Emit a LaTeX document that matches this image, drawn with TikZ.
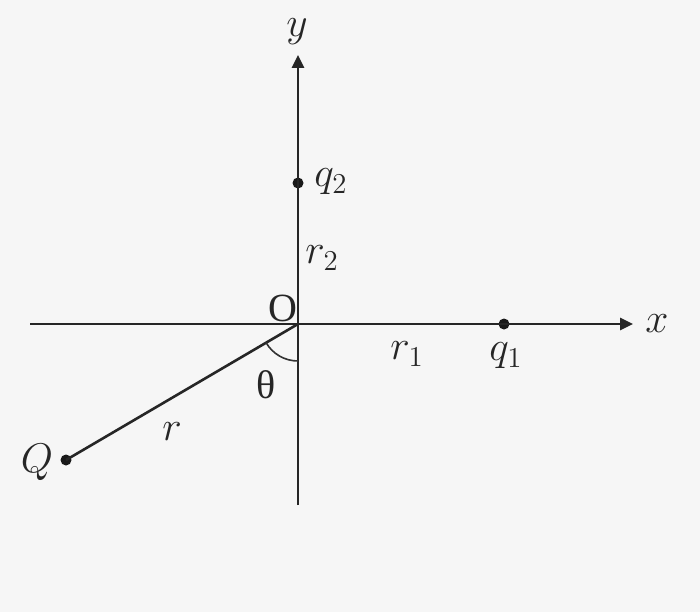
\documentclass[tikz,border=0pt]{standalone}
\usepackage{fontspec}
\newfontfamily\tmsfont{Liberation Serif}
\usetikzlibrary{arrows.meta}
\begin{document}
\begin{tikzpicture}[x=0.5pt,y=0.5pt,
  axis/.style={draw=black!85, line width=1.3pt},
  tip/.style={-{Triangle[length=6.5pt,width=6pt]}},
  charge/.style={circle, fill=black!90, inner sep=0pt, minimum size=5.5pt},
  lab/.style={font=\fontsize{20}{24}\selectfont, text=black!85, inner sep=1pt}]
\useasboundingbox[fill=gray!7] (0,0) rectangle (700,612);
\coordinate (O) at (298,288);
\coordinate (xl) at (30,288);
\coordinate (xr) at (633,288);
\coordinate (yb) at (298,107);
\coordinate (yt) at (298,557);
\node[charge] (q1) at (504,288) {};
\node[charge] (q2) at (298,429) {};
\node[charge] (Q) at (66,152) {};
\draw[axis,tip] (xl) -- (xr);
\draw[axis,tip] (yb) -- (yt);
\draw[axis] (O) -- (Q.center);
\draw[draw=black!80, line width=0.8pt] ([shift={(210:18.5pt)}]O) arc[start angle=210, end angle=270, radius=18.5pt];
\node[lab] (ly) at (297,580) {$y$};
\node[lab] (lx) at (657,288) {$x$};
\node[lab] (lO) at (283,304) {\tmsfont O};
\node[lab] (lr2) at (322,354) {$r_2$};
\node[lab] (lq2) at (331,430) {$q_2$};
\node[lab] (lr1) at (407,258) {$r_1$};
\node[lab] (lq1) at (506,256) {$q_1$};
\node[lab] (lth) at (266,227) {\tmsfont θ};
\node[lab] (lr) at (172,180) {$r$};
\node[lab] (lQ) at (37,150) {$Q$};
\end{tikzpicture}
\end{document}
